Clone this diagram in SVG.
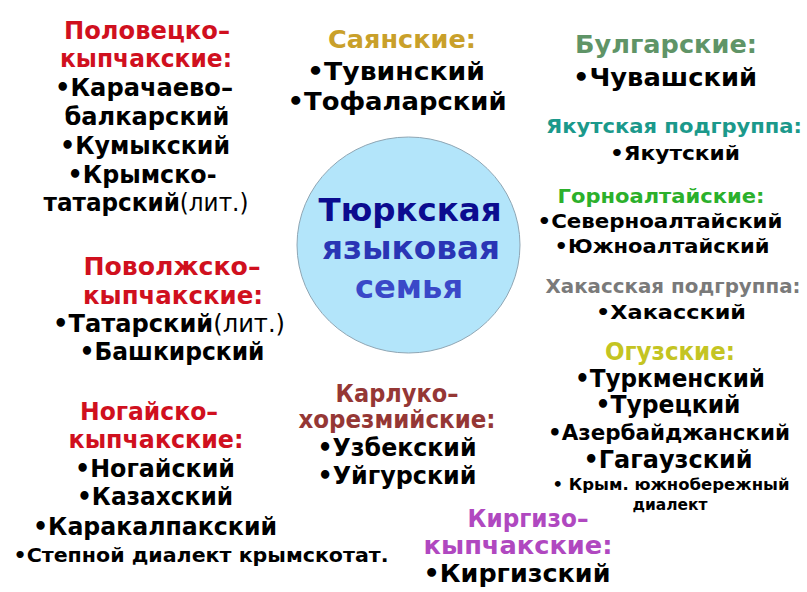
<svg xmlns="http://www.w3.org/2000/svg" width="807" height="592" viewBox="0 0 807 592">
<style>
text{font-family:"DejaVu Sans","Verdana","Liberation Sans",sans-serif;font-weight:bold;text-anchor:middle;fill:#000}
.h{font-size:24px}
.i{font-size:24px}
.m{font-size:22px}
.L{font-size:25px}
.s{font-size:20px}
.t{font-size:15px}
.c{font-size:32px}
.n{font-weight:normal}
.red{fill:#d0101e}
.gold{fill:#c9a02a}
.bul{fill:#5f9467}
.yak{fill:#1b998b}
.gor{fill:#2bb02b}
.kha{fill:#7a7a7a}
.ogu{fill:#c4c422}
.kar{fill:#953735}
.kir{fill:#b048c0}
</style>
<rect width="807" height="592" fill="#fff"/>
<g id="center">
<ellipse cx="408.5" cy="245" rx="111.5" ry="108" fill="#b3e5fa" stroke="#8fa6b4" stroke-width="1"/>
<text class="c" x="410" y="221" textLength="183" lengthAdjust="spacingAndGlyphs" style="fill:#0c0c8f">Тюркская</text>
<text class="c" x="411" y="259" textLength="178" lengthAdjust="spacingAndGlyphs" style="fill:#2a35b5">языковая</text>
<text class="c" x="409" y="298" textLength="108" lengthAdjust="spacingAndGlyphs" style="fill:#3a48c8">семья</text>
</g>
<g id="polovets">
<text class="h red" x="147" y="39" textLength="166" lengthAdjust="spacingAndGlyphs">Половецко–</text>
<text class="h red" x="146" y="67" textLength="172" lengthAdjust="spacingAndGlyphs">кыпчакские:</text>
<text class="i" x="144" y="96" textLength="178" lengthAdjust="spacingAndGlyphs">•Карачаево–</text>
<text class="i" x="147" y="125" textLength="165" lengthAdjust="spacingAndGlyphs">балкарский</text>
<text class="i" x="145" y="154" textLength="170" lengthAdjust="spacingAndGlyphs">•Кумыкский</text>
<text class="i" x="142" y="183" textLength="149" lengthAdjust="spacingAndGlyphs">•Крымско-</text>
<text class="i" x="146" y="211" textLength="205" lengthAdjust="spacingAndGlyphs">татарский<tspan class="n">(лит.)</tspan></text>
</g>
<g id="sayan">
<text class="L gold" x="402" y="48" textLength="148" lengthAdjust="spacingAndGlyphs">Саянские:</text>
<text class="L" x="396" y="80" textLength="178" lengthAdjust="spacingAndGlyphs">•Тувинский</text>
<text class="L" x="397" y="110" textLength="219" lengthAdjust="spacingAndGlyphs">•Тофаларский</text>
</g>
<g id="bulgar">
<text class="L bul" x="666" y="53" textLength="182" lengthAdjust="spacingAndGlyphs">Булгарские:</text>
<text class="L" x="665" y="86" textLength="184" lengthAdjust="spacingAndGlyphs">•Чувашский</text>
</g>
<g id="yakut">
<text class="s yak" x="674" y="133" textLength="256" lengthAdjust="spacingAndGlyphs">Якутская подгруппа:</text>
<text class="s" x="675" y="160" textLength="130" lengthAdjust="spacingAndGlyphs">•Якутский</text>
</g>
<g id="gorno">
<text class="s gor" x="661" y="203" textLength="207" lengthAdjust="spacingAndGlyphs">Горноалтайские:</text>
<text class="s" x="660" y="228" textLength="245" lengthAdjust="spacingAndGlyphs">•Северноалтайский</text>
<text class="s" x="662" y="253" textLength="215" lengthAdjust="spacingAndGlyphs">•Южноалтайский</text>
</g>
<g id="khakas">
<text class="s kha" x="673" y="293" textLength="255" lengthAdjust="spacingAndGlyphs">Хакасская подгруппа:</text>
<text class="s" x="671" y="319" textLength="150" lengthAdjust="spacingAndGlyphs">•Хакасский</text>
</g>
<g id="povolzh">
<text class="h red" x="172" y="275" textLength="177" lengthAdjust="spacingAndGlyphs">Поволжско–</text>
<text class="h red" x="173" y="304" textLength="180" lengthAdjust="spacingAndGlyphs">кыпчакские:</text>
<text class="i" x="169" y="332" textLength="232" lengthAdjust="spacingAndGlyphs">•Татарский<tspan class="n">(лит.)</tspan></text>
<text class="i" x="172" y="360" textLength="185" lengthAdjust="spacingAndGlyphs">•Башкирский</text>
</g>
<g id="nogai">
<text class="h red" x="149" y="420" textLength="138" lengthAdjust="spacingAndGlyphs">Ногайско–</text>
<text class="h red" x="156" y="448" textLength="175" lengthAdjust="spacingAndGlyphs">кыпчакские:</text>
<text class="i" x="155" y="477" textLength="160" lengthAdjust="spacingAndGlyphs">•Ногайский</text>
<text class="i" x="155" y="505" textLength="156" lengthAdjust="spacingAndGlyphs">•Казахский</text>
<text class="i" x="155" y="535" textLength="244" lengthAdjust="spacingAndGlyphs">•Каракалпакский</text>
<text class="s" x="201" y="562" textLength="375" lengthAdjust="spacingAndGlyphs">•Степной диалект крымскотат.</text>
</g>
<g id="karluk">
<text class="h kar" x="397" y="402" textLength="123" lengthAdjust="spacingAndGlyphs">Карлуко–</text>
<text class="h kar" x="397" y="428" textLength="197" lengthAdjust="spacingAndGlyphs">хорезмийские:</text>
<text class="i" x="397" y="456" textLength="159" lengthAdjust="spacingAndGlyphs">•Узбекский</text>
<text class="i" x="397" y="484" textLength="159" lengthAdjust="spacingAndGlyphs">•Уйгурский</text>
</g>
<g id="oguz">
<text class="h ogu" x="670" y="360" textLength="130" lengthAdjust="spacingAndGlyphs">Огузские:</text>
<text class="i" x="670" y="387" textLength="190" lengthAdjust="spacingAndGlyphs">•Туркменский</text>
<text class="i" x="668" y="413" textLength="145" lengthAdjust="spacingAndGlyphs">•Турецкий</text>
<text class="m" x="669" y="440" textLength="242" lengthAdjust="spacingAndGlyphs">•Азербайджанский</text>
<text class="i" x="668" y="468" textLength="169" lengthAdjust="spacingAndGlyphs">•Гагаузский</text>
<text class="t" x="671" y="490" textLength="237" lengthAdjust="spacingAndGlyphs">• Крым. южнобережный</text>
<text class="t" x="670" y="510" textLength="75" lengthAdjust="spacingAndGlyphs">диалект</text>
</g>
<g id="kirgiz">
<text class="h kir" x="528" y="527" textLength="121" lengthAdjust="spacingAndGlyphs">Киргизо–</text>
<text class="h kir" x="518" y="554" textLength="189" lengthAdjust="spacingAndGlyphs">кыпчакские:</text>
<text class="i" x="517" y="582" textLength="187" lengthAdjust="spacingAndGlyphs">•Киргизский</text>
</g>
<g id="connectors"/>
</svg>
